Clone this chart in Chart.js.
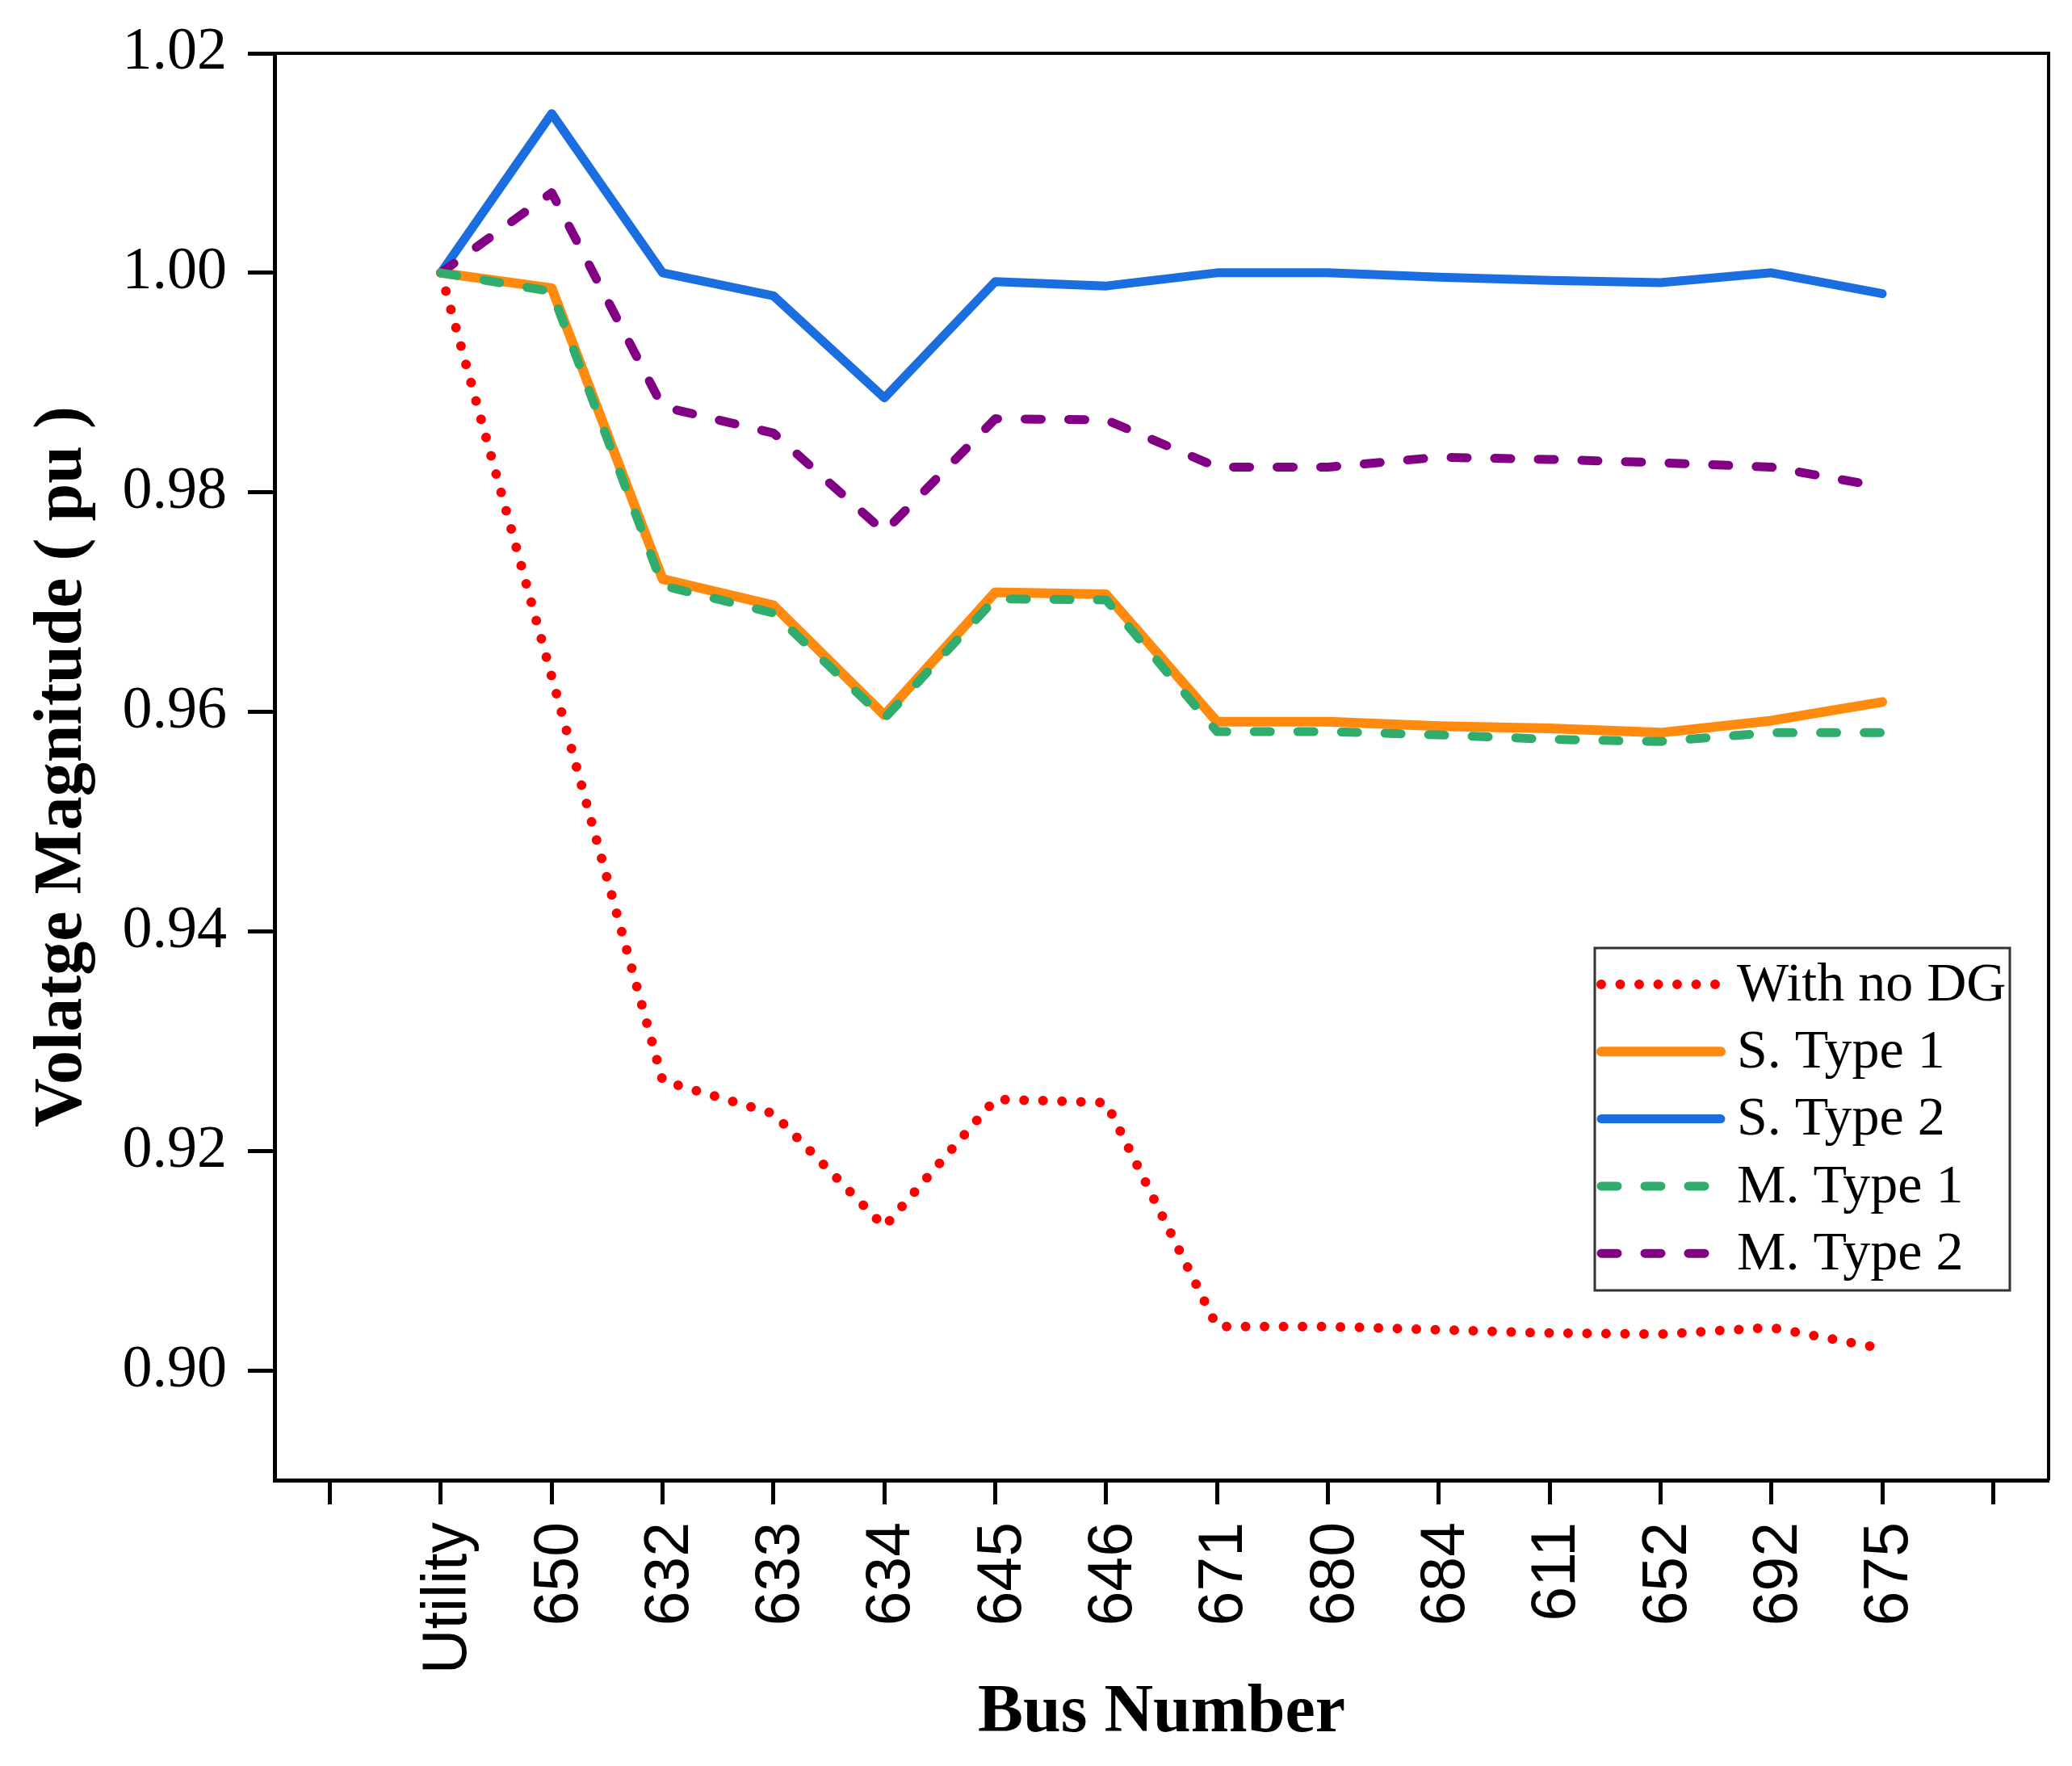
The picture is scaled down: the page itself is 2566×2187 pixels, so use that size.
<!DOCTYPE html>
<html>
<head>
<meta charset="utf-8">
<title>Bus voltage profile</title>
<script src="https://cdn.jsdelivr.net/npm/chart.js@4.4.1/dist/chart.umd.min.js"></script>
<style>
  html, body { margin: 0; padding: 0; background: #fff; }
  #wrap { width: 2566px; height: 2187px; position: relative; }
</style>
</head>
<body>
<div id="wrap"><canvas id="voltChart"></canvas></div>
<script>
// bus labels along the x axis
const busLabels = ['Utility', '650', '632', '633', '634', '645', '646', '671', '680', '684', '611', '652', '692', '675'];

// voltage magnitude (pu) per bus
const noDG   = [1.000, 0.9632, 0.9264, 0.9234, 0.9131, 0.9247, 0.9244, 0.9040, 0.9040, 0.9037, 0.9034, 0.9033, 0.9039, 0.9020];
const sType1 = [1.000, 0.9986, 0.9721, 0.9697, 0.9597, 0.9709, 0.9707, 0.9591, 0.9591, 0.9587, 0.9585, 0.9581, 0.9592, 0.9609];
const sType2 = [1.000, 1.0145, 1.000, 0.9979, 0.9886, 0.9992, 0.9988, 1.000, 1.000, 0.9996, 0.9993, 0.9991, 1.000, 0.9981];
const mType1 = [1.000, 0.9983, 0.9715, 0.9690, 0.9594, 0.9703, 0.9702, 0.9582, 0.9582, 0.9579, 0.9575, 0.9573, 0.9581, 0.9581];
const mType2 = [1.000, 1.0073, 0.9878, 0.9854, 0.9764, 0.9867, 0.9866, 0.9823, 0.9823, 0.9832, 0.9830, 0.9827, 0.9823, 0.9805];

const yTicks = [0.90, 0.92, 0.94, 0.96, 0.98, 1.00, 1.02];
const seriesNames = ['With no DG', 'S. Type 1', 'S. Type 2', 'M. Type 1', 'M. Type 2'];

// one empty slot on each side, like the original axis
const labels = [''].concat(busLabels, ['']);
function pad(arr) { return [null].concat(arr, [null]); }

const styles = [
  { color: '#ff0000', width: 12, dash: [0, 23.5], order: 4 },
  { color: '#ff8a0d', width: 12, dash: [], order: 2 },
  { color: '#1b6ee0', width: 11, dash: [], order: 3 },
  { color: '#30ad6c', width: 11, dash: [20, 34], order: 0 },
  { color: '#820083', width: 11, dash: [20, 34], order: 1 }
];
const seriesData = [noDG, sType1, sType2, mType1, mType2];

const datasets = seriesData.map(function(d, i) {
  const s = styles[i];
  return {
    label: seriesNames[i],
    data: pad(d),
    borderColor: s.color,
    backgroundColor: s.color,
    borderWidth: s.width,
    borderDash: s.dash,
    borderCapStyle: 'round',
    borderJoinStyle: 'round',
    pointRadius: 0,
    fill: false,
    tension: 0,
    order: s.order
  };
});

// top/right frame and the in-plot legend
const framePlugin = {
  id: 'frameAndLegend',
  afterDraw(chart) {
    const ctx = chart.ctx;
    const a = chart.chartArea;
    ctx.save();
    ctx.strokeStyle = '#000';
    ctx.lineWidth = 4;
    ctx.beginPath();
    ctx.moveTo(a.left, a.top);
    ctx.lineTo(a.right, a.top);
    ctx.lineTo(a.right, a.bottom);
    ctx.stroke();

    // legend box
    const bx = a.right - 562, by = a.top + 1108, bw = 514, bh = 424;
    ctx.fillStyle = '#fff';
    ctx.fillRect(bx, by, bw, bh);
    ctx.strokeStyle = '#333';
    ctx.lineWidth = 3;
    ctx.strokeRect(bx, by, bw, bh);

    ctx.font = '68px "Liberation Serif", "Times New Roman", serif';
    ctx.textBaseline = 'middle';
    ctx.textAlign = 'left';
    for (let i = 0; i < seriesNames.length; i++) {
      const s = styles[i];
      const ry = by + 45 + i * 83.3;
      ctx.beginPath();
      ctx.strokeStyle = s.color;
      ctx.lineWidth = s.width;
      ctx.lineCap = 'round';
      ctx.setLineDash(s.dash);
      ctx.moveTo(bx + 8, ry);
      ctx.lineTo(bx + 156, ry);
      ctx.stroke();
      ctx.setLineDash([]);
      ctx.fillStyle = '#000';
      ctx.fillText(seriesNames[i], bx + 176, ry + 2);
    }
    ctx.restore();
  }
};

const ctx = document.getElementById('voltChart').getContext('2d');
new Chart(ctx, {
  type: 'line',
  data: { labels: labels, datasets: datasets },
  options: {
    responsive: true,
    maintainAspectRatio: false,
    animation: false,
    layout: { padding: { left: 0, top: 66, right: 29, bottom: 0 } },
    plugins: {
      legend: { display: false },
      tooltip: { enabled: false }
    },
    scales: {
      x: {
        type: 'category',
        offset: true,
        afterFit: function(scale) {
          scale.height = 354;
          scale.paddingLeft = 0;
          scale.paddingRight = 0;
        },
        border: { display: true, color: '#000', width: 5 },
        grid: { display: true, drawOnChartArea: false, drawTicks: true, tickLength: 30, tickWidth: 5, tickColor: '#000', offset: false },
        ticks: {
          autoSkip: false,
          minRotation: 90,
          maxRotation: 90,
          padding: 22,
          labelOffset: 10,
          color: '#000',
          font: { family: '"Liberation Sans", Arial, sans-serif', size: 77 }
        },
        title: {
          display: true,
          text: 'Bus Number',
          color: '#000',
          padding: { top: 0, bottom: 14 },
          font: { family: '"Liberation Serif", "Times New Roman", serif', size: 84, weight: 'bold', lineHeight: 1.2 }
        }
      },
      y: {
        type: 'linear',
        min: 0.89,
        max: 1.02,
        afterFit: function(scale) {
          scale.width = 340;
          scale.paddingTop = 0;
          scale.paddingBottom = 0;
        },
        afterBuildTicks: function(scale) { scale.ticks = yTicks.map(function(v) { return { value: v }; }); },
        border: { display: true, color: '#000', width: 5 },
        grid: { display: true, drawOnChartArea: false, drawTicks: true, tickLength: 33, tickWidth: 5, tickColor: '#000' },
        ticks: {
          padding: 26,
          color: '#000',
          font: { family: '"Liberation Serif", "Times New Roman", serif', size: 74 },
          callback: function(v) { return Number(v).toFixed(2); }
        },
        title: {
          display: true,
          text: 'Volatge Magnitude ( pu )',
          color: '#000',
          padding: { top: 28, bottom: 0 },
          font: { family: '"Liberation Serif", "Times New Roman", serif', size: 84, weight: 'bold', lineHeight: 1.2 }
        }
      }
    }
  },
  plugins: [framePlugin]
});
</script>
</body>
</html>
